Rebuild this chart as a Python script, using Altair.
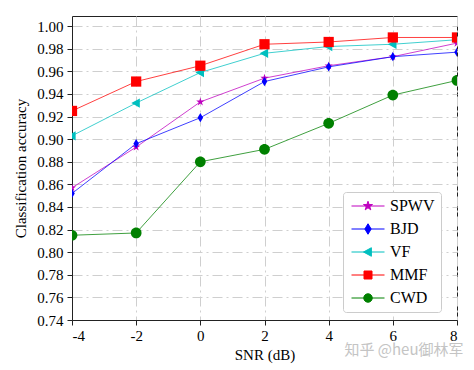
import altair as alt
import pandas as pd

snr = [-4, -2, 0, 2, 4, 6, 8]
series = ["SPWV", "BJD", "VF", "MMF", "CWD"]
spwv = [0.857, 0.893, 0.933, 0.954, 0.965, 0.973, 0.985]
bjd = [0.852, 0.896, 0.919, 0.951, 0.964, 0.973, 0.977]
vf = [0.903, 0.932, 0.959, 0.976, 0.982, 0.984, 0.988]
mmf = [0.925, 0.951, 0.965, 0.984, 0.986, 0.990, 0.990]
cwd = [0.815, 0.817, 0.880, 0.891, 0.914, 0.939, 0.952]
y_ticks = [0.74, 0.76, 0.78, 0.80, 0.82, 0.84, 0.86, 0.88, 0.90, 0.92, 0.94, 0.96, 0.98, 1.00]
x_ticks = [-4, -2, 0, 2, 4, 6, 8]

values = {"SPWV": spwv, "BJD": bjd, "VF": vf, "MMF": mmf, "CWD": cwd}
rows = []
for s in series:
    for x, y in zip(snr, values[s]):
        rows.append({"snr": x, "acc": y, "method": s})
df = pd.DataFrame(rows)

colors = ["#bf00bf", "#0000ff", "#00bfbf", "#ff0000", "#008000"]

# marker outlines in unit coordinates
star = [(0, -1), (0.2245, -0.309), (0.951, -0.309), (0.363, 0.118), (0.588, 0.809),
        (0, 0.382), (-0.588, 0.809), (-0.363, 0.118), (-0.951, -0.309), (-0.2245, -0.309)]
thin_diamond = [(0, -1), (0.6, 0), (0, 1), (-0.6, 0)]
tri_left = [(-1, 0), (0.75, -0.95), (0.75, 0.95)]
square = [(-1, -1), (1, -1), (1, 1), (-1, 1)]


def poly(pts, k=1.0):
    return "M" + "L".join(f"{x*k:.3f},{y*k:.3f}" for x, y in pts) + "Z"


def circ(k=1.0):
    return f"M{-k:.3f},0A{k:.3f},{k:.3f} 0 1,0 {k:.3f},0A{k:.3f},{k:.3f} 0 1,0 {-k:.3f},0Z"


point_shapes = [poly(star), poly(thin_diamond), poly(tri_left), poly(square), circ()]
point_sizes = [75, 115, 80, 64, 70]

# legend glyphs: a short line with the marker in its middle (unit = 5 px at size 100)
legend_line = "M-3.3,0L3.3,0"
legend_paths = [
    legend_line + poly(star, 0.95),
    legend_line + poly(thin_diamond, 1.05),
    legend_line + poly(tri_left, 0.9),
    legend_line + poly(square, 0.8),
    legend_line + circ(0.85),
]

x_enc = alt.X("snr:Q", scale=alt.Scale(domain=[-4, 8], nice=False, zero=False),
              axis=alt.Axis(values=x_ticks, title="SNR (dB)", labelExpr="'' + datum.value"))
y_enc = alt.Y("acc:Q", scale=alt.Scale(domain=[0.74, 1.009], nice=False, zero=False),
              axis=alt.Axis(values=y_ticks, format=".2f", title="Classification accuracy",
                            labelOverlap=False))

lines = alt.Chart(df).mark_line(strokeWidth=1, opacity=0.75, clip=True).encode(
    x=x_enc, y=y_enc,
    color=alt.Color("method:N", scale=alt.Scale(domain=series, range=colors), legend=None),
    detail="method:N",
)

points = alt.Chart(df).mark_point(filled=True, opacity=1, clip=True, strokeWidth=1).encode(
    x=x_enc, y=y_enc,
    color=alt.Color("method:N", scale=alt.Scale(domain=series, range=colors), legend=None),
    shape=alt.Shape("method:N", scale=alt.Scale(domain=series, range=point_shapes), legend=None),
    size=alt.Size("method:N", scale=alt.Scale(domain=series, range=point_sizes), legend=None),
)

legend_kw = dict(
    orient="none", legendX=271, legendY=176, title=None,
    labelFont="Liberation Serif", labelFontSize=16, labelColor="black",
    labelOffset=14, symbolSize=100, symbolStrokeWidth=1, symbolOffset=11,
    rowPadding=7, padding=6, strokeColor="#cccccc",
    cornerRadius=3, fillColor="white", symbolOpacity=1,
)

legend_layer = alt.Chart(df).transform_filter("false").mark_point(
    filled=True, opacity=1, strokeWidth=1, size=100).encode(
    x=x_enc, y=y_enc,
    color=alt.Color("method:N", scale=alt.Scale(domain=series, range=colors), sort=series,
                    legend=alt.Legend(**legend_kw)),
    stroke=alt.Stroke("method:N", scale=alt.Scale(domain=series, range=colors), sort=series,
                      legend=alt.Legend(**legend_kw)),
    shape=alt.Shape("method:N", scale=alt.Scale(domain=series, range=legend_paths), sort=series,
                    legend=alt.Legend(**legend_kw)),
)

chart = alt.layer(lines, points, legend_layer).resolve_scale(
    shape="independent", color="independent", stroke="independent", size="independent"
).properties(
    width=385, height=304,
    autosize=alt.AutoSizeParams(type="none"),
    padding={"left": 64, "top": 8, "right": 9, "bottom": 46},
    title=alt.TitleParams(text="知乎 @heu御林军", orient="bottom", anchor="end",
                          font="Noto Sans CJK SC", fontSize=15, fontWeight="normal",
                          color="#c4c4c4", offset=-19, dx=6),
).configure_view(stroke="#222222", strokeWidth=1).configure_axis(
    labelFont="Liberation Serif", labelFontSize=15, labelColor="black",
    titleFont="Liberation Serif", titleFontSize=15, titleFontWeight="normal", titleColor="black",
    domainColor="#222222", tickColor="#222222", tickSize=5, labelPadding=3,
    gridColor="#cfcfcf", gridDash=[10, 4, 2, 4], gridWidth=1,
).configure_axisY(titlePadding=8, labelPadding=4).configure_axisX(titlePadding=4)

chart.save("out.html", embed_options={"renderer": "svg", "actions": False})
